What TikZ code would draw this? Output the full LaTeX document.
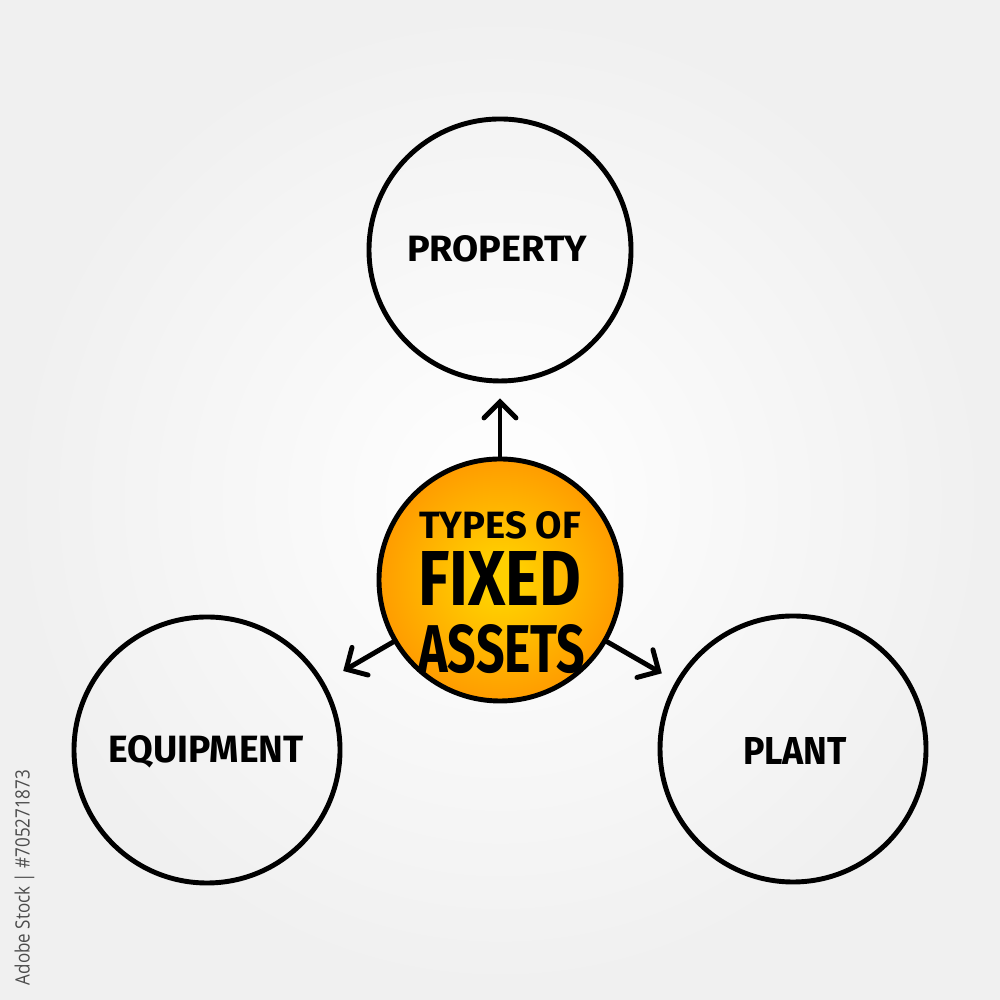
\documentclass[tikz,border=0pt]{standalone}
\usepackage{fontspec}
\setmainfont{Fira Sans}
\newfontfamily\stockfont{Open Sans}
\usepackage{graphicx}
\usepackage{tikz}
\usetikzlibrary{arrows.meta}

\definecolor{assetyellow}{HTML}{FFD000}
\definecolor{assetorange}{HTML}{FF9C00}
\pgfdeclareradialshading{assetglow}{\pgfpoint{0bp}{0bp}}{color(0bp)=(assetyellow); color(4bp)=(assetyellow); color(25bp)=(assetorange); color(50bp)=(assetorange)}

% width, cap height, text
\newcommand{\capline}[3]{\resizebox{#1cm}{#2cm}{\bfseries #3}}

\begin{document}
\begin{tikzpicture}[
	ring/.style = {circle, draw = black, line width = 1.4pt, inner sep = 0pt},
	word/.style = {inner sep = 0pt},
	link/.style = {line width = 1.4pt, line cap = round, -{Straight Barb[length = 0.16cm, width = 0.32cm, line cap = round]}}
	]
	\shade[inner color = white, outer color = black!6] (0,0) rectangle (10,10); %background
	\node[ring, minimum size = 2.62cm] (property) at (5.00,7.50) {};
	\node[ring, minimum size = 2.66cm] (equipment) at (2.07,2.50) {};
	\node[ring, minimum size = 2.66cm] (plant) at (7.93,2.51) {};
	\node[ring, minimum size = 2.42cm, shading = assetglow] (core) at (5.00,4.20) {};
	\node[word] (propertytext) at (4.97,7.51) {\capline{1.80}{0.26}{PROPERTY}};
	\node[word] (equipmenttext) at (2.06,2.48) {\capline{1.95}{0.27}{EQUIPMENT}};
	\node[word] (planttext) at (7.95,2.49) {\capline{1.04}{0.27}{PLANT}};
	\node[word] (types) at (5.00,4.75) {\capline{1.62}{0.27}{TYPES OF}};
	\node[word] (fixed) at (5.00,4.21) {\capline{1.63}{0.54}{FIXED}};
	\node[word] (assets) at (5.02,3.51) {\capline{1.67}{0.48}{ASSETS}};
	\draw[link, shorten > = 0.15cm] (core) -- (property);
	\draw[link, shorten > = 0.22cm] (core) -- (equipment);
	\draw[link, shorten > = 0.16cm] (core) -- (plant);
	\node[word, rotate = 90, text = black!70] (stock) at (0.245,1.225) {\stockfont\resizebox{2.15cm}{0.15cm}{Adobe Stock | \#705271873}};
\end{tikzpicture}
\end{document}
